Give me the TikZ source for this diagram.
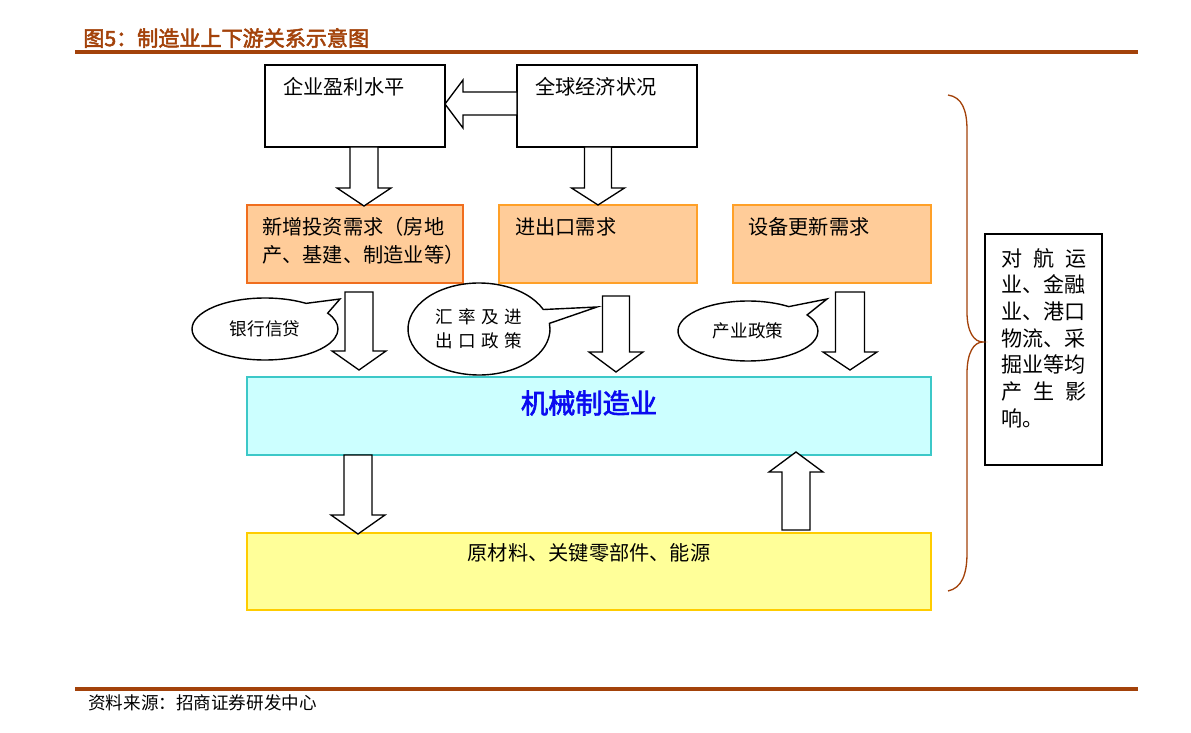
\documentclass[tikz,border=0pt]{standalone}
\usepackage{fontspec}
\setmainfont{Noto Sans CJK SC}[AutoFakeBold=2.5]
\usetikzlibrary{shapes.callouts, calc}
\definecolor{titlebrown}{RGB}{163,66,10}
\definecolor{demandfill}{RGB}{255,204,153}
\definecolor{investedge}{RGB}{240,110,30}
\definecolor{demandedge}{RGB}{255,160,40}
\definecolor{makerfill}{RGB}{204,255,255}
\definecolor{makeredge}{RGB}{60,200,200}
\definecolor{inputfill}{RGB}{255,255,153}
\definecolor{inputedge}{RGB}{255,204,0}
\definecolor{makerblue}{RGB}{10,10,240}
\tikzset{
    plainbox/.style={rectangle, draw=black, line width=0.8pt, fill=white, minimum width=3.6cm, minimum height=1.64cm, inner sep=0pt, outer sep=0pt},
    demandbox/.style={rectangle, draw=demandedge, line width=0.9pt, fill=demandfill, minimum width=3.96cm, minimum height=1.56cm, inner sep=0pt, outer sep=0pt},
    widebox/.style={rectangle, line width=0.9pt, minimum width=13.68cm, inner sep=0pt, outer sep=0pt},
    boxtext/.style={anchor=west, inner sep=0pt, font=\fontsize{11.5pt}{16pt}\selectfont, align=left},
    bubble/.style={ellipse callout, draw=black, line width=0.8pt, fill=white, font=\fontsize{10pt}{13.7pt}\selectfont, align=center, inner sep=0pt},
    blockarrow/.style={draw=black, line width=0.75pt, fill=white, line join=miter},
    rulebar/.style={draw=titlebrown, line width=1.8pt}
}
% vertical block arrow: x, start y, head base y, tip y, shaft half width, head half width
\newcommand{\blockv}[6]{%
    \draw[blockarrow] (#1-#5,#2) -- (#1-#5,#3) -- (#1-#6,#3) -- (#1,#4) -- (#1+#6,#3) -- (#1+#5,#3) -- (#1+#5,#2) -- cycle;}

\begin{document}
\begin{tikzpicture}[x=0.02cm, y=-0.02cm]
    \useasboundingbox (0,0) rectangle (1191,733);

    % Title and rules
    \node[anchor=west, inner sep=0pt, text=titlebrown, font=\fontsize{12pt}{14pt}\selectfont\bfseries] (fig_title) at (83,38) {图5：制造业上下游关系示意图};
    \draw[rulebar] (75,52) -- (1138,52);
    \draw[rulebar] (75,689) -- (1138,689);
    \node[anchor=west, inner sep=0pt, font=\fontsize{10pt}{12pt}\selectfont] (fig_source) at (88,703) {资料来源：招商证券研发中心};

    % Top boxes
    \node (box_qiye) [plainbox] at (355,106) {};
    \node (box_quanqiu) [plainbox] at (607,106) {};
    \node[boxtext] at ([shift={(18,22)}]box_qiye.north west) {企业盈利水平};
    \node[boxtext] at ([shift={(18,22)}]box_quanqiu.north west) {全球经济状况};

    % Demand boxes
    \node (box_xinzeng) [demandbox, draw=investedge, minimum width=4.32cm] at (355,244) {};
    \node (box_jinchu) [demandbox] at (598,244) {};
    \node (box_shebei) [demandbox] at (832,244) {};
    \node[boxtext] at ([shift={(15,36)}]box_xinzeng.north west) {新增投资需求（房地\\产、基建、制造业等）};
    \node[boxtext] at ([shift={(16,22)}]box_jinchu.north west) {进出口需求};
    \node[boxtext] at ([shift={(15,22)}]box_shebei.north west) {设备更新需求};

    % Manufacturing and inputs
    \node (box_jixie) [widebox, draw=makeredge, fill=makerfill, minimum height=1.56cm] at (589,416) {};
    \node (box_yuan) [widebox, draw=inputedge, fill=inputfill, minimum height=1.54cm] at (589,571.5) {};
    \node[inner sep=0pt, text=makerblue, font=\fontsize{15.5pt}{18pt}\selectfont\bfseries] at ([shift={(0,26)}]box_jixie.north) {机械制造业};
    \node[inner sep=0pt, font=\fontsize{11.5pt}{14pt}\selectfont] at ([shift={(0,20)}]box_yuan.north) {原材料、关键零部件、能源};

    % Block arrows
    \draw[blockarrow] (517,92) -- (463,92) -- (463,80) -- (445,104) -- (463,128) -- (463,115) -- (517,115) -- cycle;
    \blockv{364}{147}{188}{206}{14}{27}
    \blockv{598}{147}{188}{205}{13.5}{26.5}
    \blockv{359}{292}{351}{370}{14}{27}
    \blockv{616}{296}{352}{372}{13.5}{27}
    \blockv{850}{292}{352}{370}{14.5}{27}
    \blockv{358}{455}{515}{534}{14}{27}
    \blockv{796}{530}{472}{452}{14}{27}

    % Callouts
    \node (call_xindai) [bubble, minimum width=2.92cm, minimum height=1.24cm, callout absolute pointer={(340,299)}, callout pointer arc=25] at (265,329) {银行信贷};
    \node (call_huilv) [bubble, minimum width=2.84cm, minimum height=1.84cm, callout absolute pointer={(597,307)}, callout pointer arc=18] at (479,329) {汇\hspace{3pt}率\hspace{3pt}及\hspace{3pt}进\\出\hspace{3pt}口\hspace{3pt}政\hspace{3pt}策};
    \node (call_chanye) [bubble, minimum width=2.8cm, minimum height=1.2cm, callout absolute pointer={(827,299)}, callout pointer arc=22] at (748,331) {产业政策};

    % Impact box and brace
    \node (box_yingxiang) [rectangle, draw=black, line width=0.8pt, fill=white, minimum width=2.34cm, minimum height=4.62cm, inner sep=0pt] at (1043.5,349.5) {};
    \node[inner sep=0pt, text width=1.7cm, align=left, font=\fontsize{12pt}{15.2pt}\selectfont] at (1044,338) {对\hfill 航\hfill 运\\业、金融\\业、港口\\物流、采\\掘业等均\\产\hfill 生\hfill 影\\响。};
    \draw[titlebrown, line width=0.75pt] (948,95) .. controls (962,97) and (967,110) .. (967,130) -- (967,312)
        .. controls (967,332) and (974,342) .. (983,342) .. controls (974,342) and (967,352) .. (967,374)
        -- (967,553) .. controls (967,574) and (962,588) .. (948,591);
\end{tikzpicture}
\end{document}
